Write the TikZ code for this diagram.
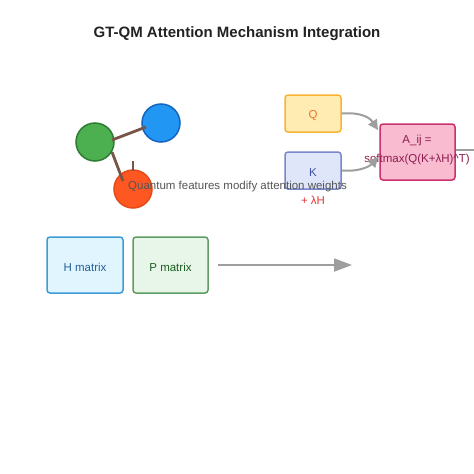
\documentclass[tikz,border=0pt]{standalone}
\usepackage{fontspec}
\setmainfont{Liberation Sans}
\usetikzlibrary{arrows.meta}
\definecolor{arrowgray}{HTML}{9E9E9E}
\definecolor{edgebrown}{HTML}{795548}
\definecolor{gfill}{HTML}{4CAF50}\definecolor{gdraw}{HTML}{2E7D32}
\definecolor{bfill}{HTML}{2196F3}\definecolor{bdraw}{HTML}{1565C0}
\definecolor{ofill}{HTML}{FF5722}\definecolor{odraw}{HTML}{E64A19}
\definecolor{qtxt}{HTML}{555555}
\definecolor{Qfill}{HTML}{FFECB3}\definecolor{Qdraw}{HTML}{F9B233}\definecolor{Qtext}{HTML}{E8772E}
\definecolor{Kfill}{HTML}{DFE6FA}\definecolor{Kdraw}{HTML}{7986CB}\definecolor{Ktext}{HTML}{3F51A5}
\definecolor{lamred}{HTML}{E53935}
\definecolor{Afill}{HTML}{F8BBD0}\definecolor{Adraw}{HTML}{C8326E}\definecolor{Atext}{HTML}{8E1C4E}
\definecolor{Hfill}{HTML}{E1F5FE}\definecolor{Hdraw}{HTML}{3F9BD6}\definecolor{Htext}{HTML}{24609A}
\definecolor{Pfill}{HTML}{E8F5E9}\definecolor{Pdraw}{HTML}{5E9E62}\definecolor{Ptext}{HTML}{1B5E20}
\definecolor{titlec}{HTML}{222222}
\tikzset{
  px/.style={x=1pt,y=-1pt},
  box/.style={draw, line width=1.5pt, rounded corners=3pt, inner sep=0pt},
  qnode/.style={circle, draw, line width=1.5pt, minimum size=38pt, inner sep=0pt},
  qedge/.style={draw=edgebrown, line width=2.8pt},
  flow/.style={draw=arrowgray, line width=2pt, -{Triangle[length=10pt,width=10pt]}},
  lbl/.style={font=\fontsize{11.5}{13}\selectfont, inner sep=0pt}
}
\begin{document}
\begin{tikzpicture}[px]
\useasboundingbox[fill=white] (0,0) rectangle (474,474);
\node[font=\bfseries\fontsize{15}{18}\selectfont, text=titlec] (title) at (237,33.5) {GT-QM Attention Mechanism Integration};

% quantum graph
\node[qnode, fill=gfill, draw=gdraw] (g) at (95,142) {};
\node[qnode, fill=bfill, draw=bdraw] (b) at (161,123) {};
\node[qnode, fill=ofill, draw=odraw] (o) at (133,189) {};
\coordinate (gA) at (112,140);
\coordinate (bA) at (146,127);
\coordinate (gB) at (112,152);
\coordinate (oB) at (123,181);
\coordinate (s1) at (133,161);
\coordinate (s2) at (133,171);
\draw[qedge] (gA) -- (bA);
\draw[qedge] (gB) -- (oB);
\draw[qedge] (s1) -- (s2);

% Q, K, A
\node[box, fill=Qfill, draw=Qdraw, minimum width=56pt, minimum height=37pt] (Q) at (313,113.5) {};
\node[lbl, text=Qtext] (Qt) at (313,115.5) {Q};
\node[box, fill=Kfill, draw=Kdraw, minimum width=56pt, minimum height=37pt] (K) at (313,170.5) {};
\node[lbl, text=Ktext] (Kt) at (313,172.5) {K};
\node[lbl, text=lamred] (lam) at (313,200.5) {+ λH};
\node[box, fill=Afill, draw=Adraw, minimum width=75pt, minimum height=56pt] (A) at (417.5,152) {};
\node[lbl, text=Atext] (A1) at (417,140.5) {A\_ij =};
\node[lbl, text=Atext] (A2) at (417,159.5) {softmax(Q(K+λH)\textasciicircum T)};

\draw[flow] (Q.east) .. controls (362,112) and (370,118) .. (378,130);
\draw[flow] (K.east) .. controls (360,172) and (370,166) .. (378,157);
\coordinate (rend) at (474,150);
\draw[draw=arrowgray, line width=2pt] (rend) -- (A.east |- rend);

\node[lbl, text=qtxt] (qtext) at (237.5,186.5) {Quantum features modify attention weights};

% H, P
\node[box, fill=Hfill, draw=Hdraw, minimum width=76pt, minimum height=56pt] (H) at (85,265) {};
\node[lbl, text=Htext] (Ht) at (85,267) {H matrix};
\node[box, fill=Pfill, draw=Pdraw, minimum width=75pt, minimum height=56pt] (P) at (170.5,265) {};
\node[lbl, text=Ptext] (Pt) at (170.5,267) {P matrix};
\coordinate (arrS) at (218,265);
\coordinate (arrE) at (352,265);
\draw[draw=arrowgray, line width=2pt, -{Triangle[length=18pt,width=13pt]}] (arrS) -- (arrE);
\end{tikzpicture}
\end{document}
